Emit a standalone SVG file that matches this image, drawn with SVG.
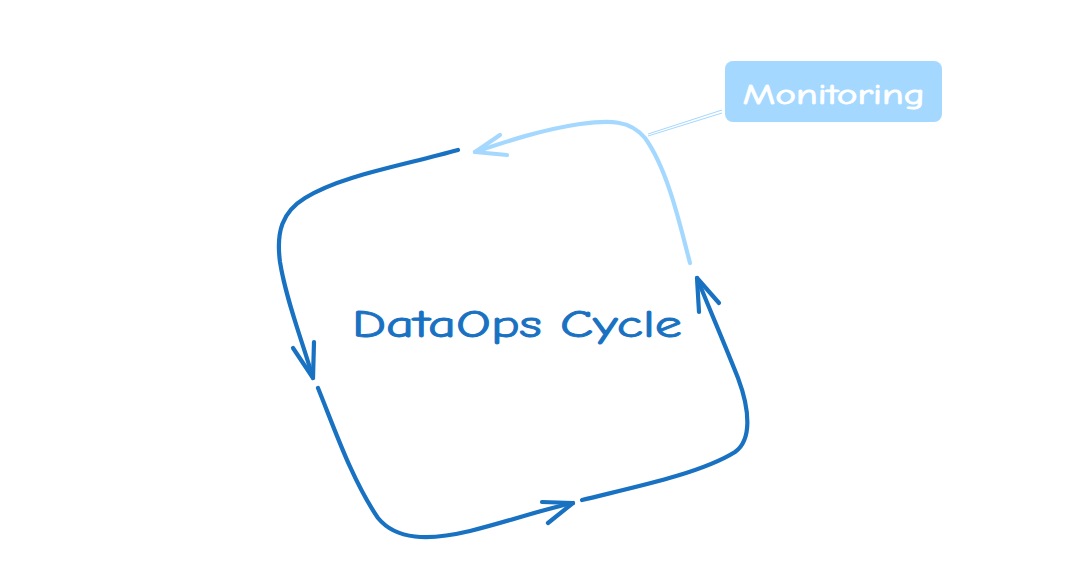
<svg xmlns="http://www.w3.org/2000/svg" width="1088" height="587" viewBox="0 0 1088 587">
<style>
.dark{fill:none;stroke:#1971c2;stroke-width:4.2;stroke-linecap:round;stroke-linejoin:round}
.light{fill:none;stroke:#a5d8ff;stroke-width:4.2;stroke-linecap:round;stroke-linejoin:round}
.lbl{font-family:"Comic Neue","Open Sans","Liberation Sans",sans-serif}
</style>
<rect width="1088" height="587" fill="#ffffff"/>
<g id="connectors">
<path class="dark" d="M458,150 C400,166 340,176 305,198 C282,212 276,232 280,262 C286,300 302,340 313,378" stroke-width="4.8"/>
<path class="dark" d="M293,348 L313,378 L314,342"/>
<path class="dark" d="M318,388 C335,430 352,480 378,518 C396,540 428,541 470,531 C510,521 540,510 573,503"/>
<path class="dark" d="M542,502 L573,503 L548,523"/>
<path class="dark" d="M582,500 C630,488 700,474 735,452 C752,440 750,410 738,378 C725,345 712,315 697,278"/>
<path class="dark" d="M699,312 L697,278 L719,303"/>
<path class="light" d="M690,263 C680,225 668,170 645,138 C630,120 610,120 580,124 C540,130 505,142 475,152"/>
<path class="light" d="M500,135 L475,152 L507,155"/>
<path d="M722,110 L648,134 M722,113 L648,136" fill="none" stroke="#a5d8ff" stroke-width="1"/>
</g>
<g id="monitoring">
<rect x="725" y="61" width="217" height="61" rx="8" fill="#a5d8ff"/>
<text class="lbl" x="833.5" y="104" font-size="29" fill="#ffffff" stroke="#ffffff" stroke-width="0.9" text-anchor="middle" textLength="182" lengthAdjust="spacingAndGlyphs">Monitoring</text>
</g>
<g id="cycle-label">
<text class="lbl" x="517" y="337" font-size="38" fill="#1971c2" stroke="#1971c2" stroke-width="0.9" text-anchor="middle" textLength="330" lengthAdjust="spacingAndGlyphs">DataOps Cycle</text>
</g>
</svg>
